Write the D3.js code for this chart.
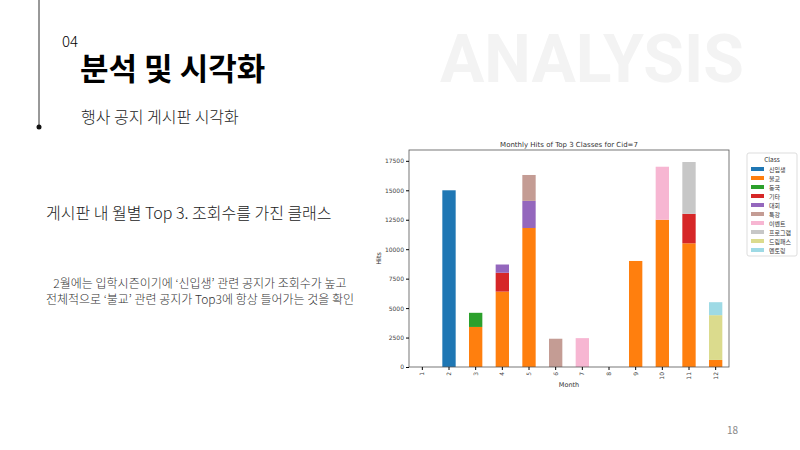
<!DOCTYPE html>
<html><head><meta charset="utf-8">
<script src="https://cdn.jsdelivr.net/npm/d3@7"></script>
<style>body{margin:0;background:#fff}svg{display:block;font-family:"Noto Sans CJK KR","Noto Sans",sans-serif}</style>
</head><body><svg width="800" height="450"></svg>
<script>
const months = ["1","2","3","4","5","6","7","8","9","10","11","12"];
const classes = ["신입생","불교","동국","기타","대회","특강","이벤트","프로그램","드림패스","멘토링"];
const colors = ["#1f77b4","#ff7f0e","#2ca02c","#d62728","#9467bd","#c49c94","#f7b6d2","#c7c7c7","#dbdb8d","#9edae5"];
// hits per month, in class order
const hits = [
	[0,0,0,0,0,0,0,0,0,0],
	[15000,0,0,0,0,0,0,0,0,0],
	[0,3400,1200,0,0,0,0,0,0,0],
	[0,6400,0,1600,700,0,0,0,0,0],
	[0,11800,0,0,2300,2200,0,0,0,0],
	[0,0,0,0,0,2400,0,0,0,0],
	[0,0,0,0,0,0,2450,0,0,0],
	[0,0,0,0,0,0,0,0,0,0],
	[0,9000,0,0,0,0,0,0,0,0],
	[0,12500,0,0,0,0,4500,0,0,0],
	[0,10500,0,2500,0,0,0,4400,0,0],
	[0,600,0,0,0,0,0,0,3800,1100]
];
const yTicks = [0,2500,5000,7500,10000,12500,15000,17500];

const svg = d3.select("svg");

// slide decoration
svg.append("line").attr("x1",39).attr("x2",39).attr("y1",0).attr("y2",126).attr("stroke","#333");
svg.append("circle").attr("cx",39).attr("cy",127).attr("r",2.5).attr("fill","#111");
svg.append("text").attr("x",440).attr("y",82).attr("font-size",66).attr("font-weight","bold")
	.attr("font-family","Roboto,sans-serif").attr("fill","#f3f3f3").text("ANALYSIS");
svg.append("text").attr("x",62).attr("y",47).attr("font-size",15).attr("font-weight",300).text("04");
svg.append("text").attr("x",80).attr("y",80).attr("font-size",31).attr("font-weight","bold").text("분석 및 시각화");
svg.append("text").attr("x",81).attr("y",123).attr("font-size",16).attr("font-weight",300).attr("fill","#222").text("행사 공지 게시판 시각화");
svg.append("text").attr("x",46).attr("y",219).attr("font-size",16).attr("font-weight",300).attr("fill","#222").text("게시판 내 월별 Top 3. 조회수를 가진 클래스");
svg.append("text").attr("x",200).attr("y",288).attr("font-size",12).attr("font-weight",300).attr("text-anchor","middle").attr("fill","#333")
	.text("2월에는 입학시즌이기에 ‘신입생’ 관련 공지가 조회수가 높고");
svg.append("text").attr("x",200).attr("y",304).attr("font-size",12).attr("font-weight",300).attr("text-anchor","middle").attr("fill","#333")
	.text("전체적으로 ‘불교’ 관련 공지가 Top3에 항상 들어가는 것을 확인");
svg.append("text").attr("x",738).attr("y",434).attr("font-size",10).attr("text-anchor","end").attr("fill","#888").text("18");

// chart
const L = 409, R = 729, T = 150, B = 367;
const x = d3.scaleBand().domain(months).range([L, R]).paddingInner(0.5).paddingOuter(0.25);
const y = d3.scaleLinear().domain([0, 18420]).range([B, T]);

const stack = d3.stack().keys(d3.range(classes.length))(hits);
const g = svg.append("g");
stack.forEach((layer, k) => {
	g.selectAll(null).data(layer.map((d, i) => ({d, i})).filter(o => o.d[1] > o.d[0])).join("rect")
		.attr("x", o => x(months[o.i])).attr("width", x.bandwidth())
		.attr("y", o => y(o.d[1])).attr("height", o => y(o.d[0]) - y(o.d[1]))
		.attr("fill", colors[k]);
});

svg.append("rect").attr("x",L).attr("y",T).attr("width",R-L).attr("height",B-T)
	.attr("fill","none").attr("stroke","#555").attr("stroke-width",0.8);

const ya = svg.append("g").attr("transform",`translate(${L},0)`)
	.call(d3.axisLeft(y).tickValues(yTicks).tickFormat(d3.format("d")).tickSize(3).tickPadding(2));
ya.select(".domain").remove();
ya.selectAll("text").attr("font-size",6).attr("fill","#444").attr("font-family","DejaVu Sans");
const xa = svg.append("g").attr("transform",`translate(0,${B})`)
	.call(d3.axisBottom(x).tickSize(3).tickPadding(2));
xa.select(".domain").remove();
xa.selectAll("text").attr("font-size",6).attr("fill","#444").attr("font-family","DejaVu Sans")
	.attr("transform","rotate(-90)").attr("text-anchor","end").attr("x",-5).attr("y",0).attr("dy","0.32em");

svg.append("text").attr("x",(L+R)/2).attr("y",147).attr("text-anchor","middle").attr("font-size",7).attr("fill","#333")
	.attr("font-family","DejaVu Sans").text("Monthly Hits of Top 3 Classes for Cid=7");
svg.append("text").attr("x",(L+R)/2).attr("y",387).attr("text-anchor","middle").attr("font-size",6.5).attr("fill","#333")
	.attr("font-family","DejaVu Sans").text("Month");
svg.append("text").attr("transform",`translate(${L-28},${(T+B)/2}) rotate(-90)`).attr("text-anchor","middle")
	.attr("font-size",6.5).attr("fill","#333").attr("font-family","DejaVu Sans").text("Hits");

// legend
const lg = svg.append("g").attr("transform","translate(747,153)");
lg.append("rect").attr("width",50).attr("height",103).attr("rx",2).attr("fill","#fff").attr("stroke","#ddd");
lg.append("text").attr("x",25).attr("y",9).attr("text-anchor","middle").attr("font-size",6.5).attr("fill","#333").text("Class");
classes.forEach((c, i) => {
	lg.append("rect").attr("x",4).attr("y",14+i*9).attr("width",13).attr("height",4).attr("fill",colors[i]);
	lg.append("text").attr("x",22).attr("y",18.5+i*9).attr("font-size",6).attr("fill","#333").text(c);
});
</script></body></html>
